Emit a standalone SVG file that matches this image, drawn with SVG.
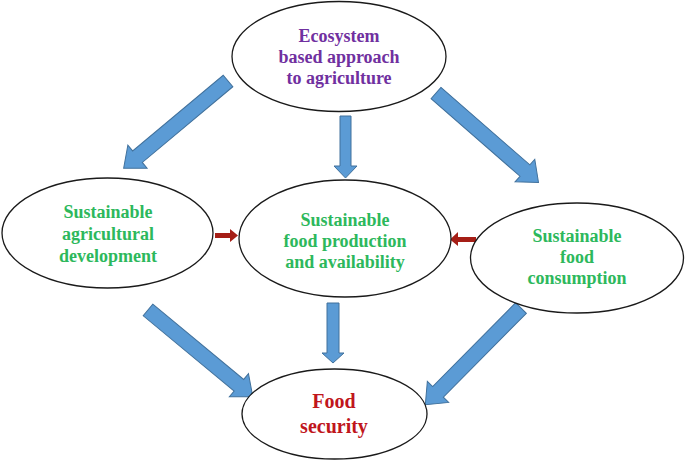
<svg xmlns="http://www.w3.org/2000/svg" xmlns:xlink="http://www.w3.org/1999/xlink" width="685" height="466" viewBox="0 0 685 466">
<style>
.node ellipse{fill:#fff;stroke:#1a1a1a;stroke-width:1.3}
.t{font-family:'Liberation Serif',Tinos,'Times New Roman',Times,'DejaVu Serif',serif;font-weight:700;text-anchor:middle;font-size:18px}
.purple{fill:#7030A0}
.green{fill:#2DB85C}
.red{fill:#C0161C;font-size:20px}
.blue{fill:#5B9BD5;stroke:#41719C;stroke-width:1}
.dred{fill:#A51E16}
</style>
<defs>
<path id="diag" d="M0,-7.5 H118 V-15 L136,0 L118,15 V7.5 H0 Z"/>
</defs>
<rect width="685" height="466" fill="#fff"/>
<g id="connectors">
<use xlink:href="#diag" class="blue" transform="translate(228,81) rotate(140.1)"/>
<use xlink:href="#diag" class="blue" transform="translate(436,93) rotate(41.1)"/>
<use xlink:href="#diag" class="blue" transform="translate(148,310) rotate(39.6)"/>
<use xlink:href="#diag" class="blue" transform="translate(521,308) rotate(134.7)"/>
<path class="blue" d="M340,116 H351 V166 H357 L345.5,178 L334,166 H340 Z"/>
<path class="blue" d="M327,303 H339 V353 H344 L333,363 L322,353 H327 Z"/>
<path class="dred" d="M215,233 H230 V229 L238,235.5 L230,242 V238 H215 Z"/>
<path class="dred" d="M476,237 H458 V232 L450,239.5 L458,246 V242 H476 Z"/>
</g>
<g id="ecosystem" class="node">
<ellipse cx="339" cy="56.5" rx="107" ry="55"/>
<text class="t purple" x="339" y="42">Ecosystem</text>
<text class="t purple" x="339" y="63">based approach</text>
<text class="t purple" x="339" y="84">to agriculture</text>
</g>
<g id="agri" class="node">
<ellipse cx="107.5" cy="233" rx="105.5" ry="55"/>
<text class="t green" x="108" y="218">Sustainable</text>
<text class="t green" x="108" y="240">agricultural</text>
<text class="t green" x="108" y="262">development</text>
</g>
<g id="production" class="node">
<ellipse cx="345" cy="238.5" rx="106" ry="58.5"/>
<text class="t green" x="345" y="226">Sustainable</text>
<text class="t green" x="345" y="247">food production</text>
<text class="t green" x="345" y="268">and availability</text>
</g>
<g id="consumption" class="node">
<ellipse cx="577" cy="258" rx="106.5" ry="55"/>
<text class="t green" x="577" y="242">Sustainable</text>
<text class="t green" x="577" y="263">food</text>
<text class="t green" x="577" y="284">consumption</text>
</g>
<g id="security" class="node">
<ellipse cx="334.5" cy="414" rx="92.5" ry="45"/>
<text class="t red" x="334" y="408">Food</text>
<text class="t red" x="334" y="433">security</text>
</g>
</svg>
